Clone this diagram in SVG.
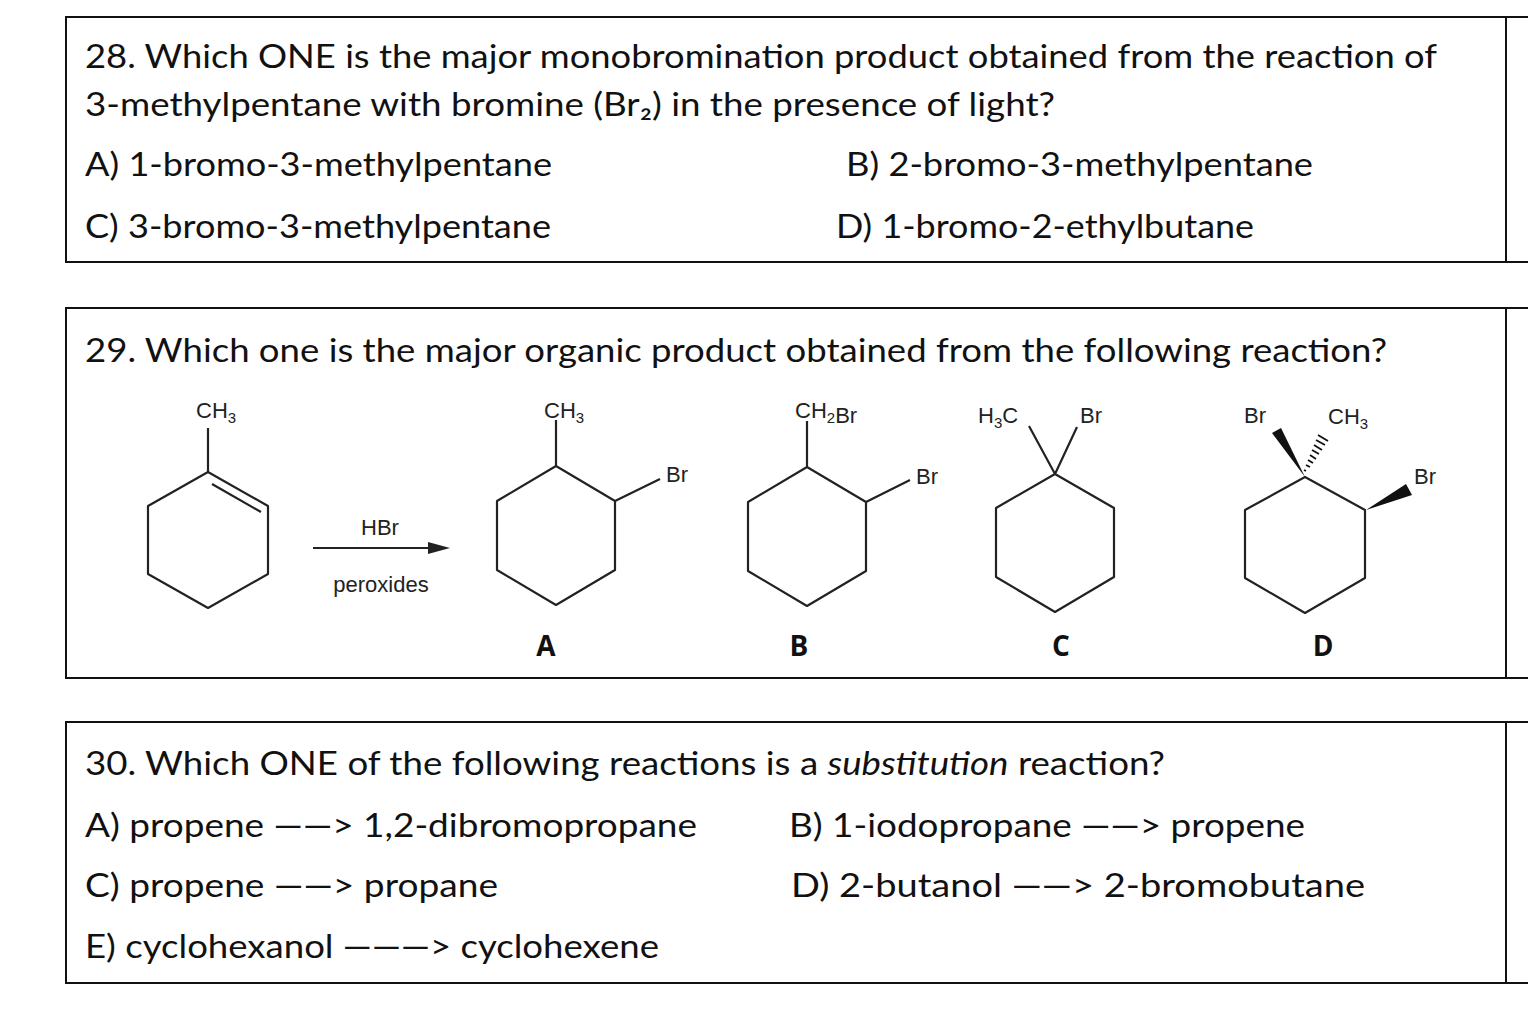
<svg xmlns="http://www.w3.org/2000/svg" width="1528" height="1018" viewBox="0 0 1528 1018">
<style>
.q{font-family:Lato,"Open Sans",sans-serif;font-size:32px;fill:#111}
.c{font-family:"Liberation Sans",Arial,sans-serif;font-size:22px;fill:#222}
.b{font-family:"Open Sans",sans-serif;font-size:28px;font-weight:bold;fill:#111}
.box{fill:none;stroke:#111;stroke-width:2}
.bd{fill:none;stroke:#222;stroke-width:2.2;stroke-linejoin:round}
</style>
<rect width="1528" height="1018" fill="#fff"/>
<g id="q28">
<path class="box" d="M1528 17H66V262H1528M1506 17V262"/>
<text class="q" x="85" y="68" textLength="1352" lengthAdjust="spacingAndGlyphs">28. Which ONE is the major monobromination product obtained from the reaction of</text>
<text class="q" x="85" y="116" textLength="970" lengthAdjust="spacingAndGlyphs">3-methylpentane with bromine (Br₂) in the presence of light?</text>
<text class="q" x="85" y="176" textLength="467" lengthAdjust="spacingAndGlyphs">A) 1-bromo-3-methylpentane</text>
<text class="q" x="846" y="176" textLength="467" lengthAdjust="spacingAndGlyphs">B) 2-bromo-3-methylpentane</text>
<text class="q" x="85" y="238" textLength="466" lengthAdjust="spacingAndGlyphs">C) 3-bromo-3-methylpentane</text>
<text class="q" x="836" y="238" textLength="418" lengthAdjust="spacingAndGlyphs">D) 1-bromo-2-ethylbutane</text>
</g>
<g id="q29">
<path class="box" d="M1528 308H66V678H1528M1506 308V678"/>
<text class="q" x="85" y="362" textLength="1302" lengthAdjust="spacingAndGlyphs">29. Which one is the major organic product obtained from the following reaction?</text>
</g>
<g id="start">
<path class="bd" d="M208 472L268 506V574L208 608L148 574V506ZM208 472V428M212 484L261 512"/>
<text class="c" x="196" y="418">CH<tspan font-size="15" dy="5">3</tspan></text>
</g>
<g id="arrow">
<line x1="313" y1="548" x2="432" y2="548" stroke="#222" stroke-width="2.2"/>
<path d="M450 548L428 542V554Z" fill="#222"/>
<text class="c" x="380" y="535" text-anchor="middle">HBr</text>
<text class="c" x="381" y="592" text-anchor="middle">peroxides</text>
</g>
<g id="A">
<path class="bd" d="M556 466L615 501V570L556 605L497 570V501ZM556 466V420M615 501L660 479"/>
<text class="c" x="544" y="418">CH<tspan font-size="15" dy="5">3</tspan></text>
<text class="c" x="666" y="482">Br</text>
<text class="b" x="546" y="656" text-anchor="middle">A</text>
</g>
<g id="B">
<path class="bd" d="M807 467L866 502V571L807 606L748 571V502ZM807 467V421M866 502L910 480"/>
<text class="c" x="795" y="418">CH<tspan font-size="15" dy="5">2</tspan>Br</text>
<text class="c" x="916" y="484">Br</text>
<text class="b" x="799" y="656" text-anchor="middle">B</text>
</g>
<g id="C">
<path class="bd" d="M1055 474L1114 508V577L1055 612L996 577V508ZM1055 474L1029 426M1055 474L1077 427"/>
<text class="c" x="978" y="423">H<tspan font-size="15" dy="5">3</tspan><tspan dy="-5">C</tspan></text>
<text class="c" x="1080" y="423">Br</text>
<text class="b" x="1061" y="656" text-anchor="middle">C</text>
</g>
<g id="D">
<path class="bd" d="M1305 477L1365 510V578L1305 613L1245 578V510Z"/>
<path d="M1305 477L1272 433L1281 428Z" fill="#111"/>
<path d="M1307 469l2 1M1309 464l4 2M1311 459l5 3M1313 454l6 4M1315 449l7 4M1317 444l8 5M1319 439l9 5M1321 434l10 6" stroke="#111" stroke-width="1.8" transform="translate(-3,1)"/>
<path d="M1366 510L1406 484L1412 495Z" fill="#111"/>
<text class="c" x="1244" y="423">Br</text>
<text class="c" x="1328" y="424">CH<tspan font-size="15" dy="5">3</tspan></text>
<text class="c" x="1414" y="484">Br</text>
<text class="b" x="1323" y="656" text-anchor="middle">D</text>
</g>
<g id="q30">
<path class="box" d="M1528 722H66V983H1528M1506 722V983"/>
<text class="q" x="85" y="775" textLength="1080" lengthAdjust="spacingAndGlyphs">30.  Which ONE of the following reactions is a <tspan font-style="italic">substitution</tspan> reaction?</text>
<text class="q" x="85" y="837" textLength="612" lengthAdjust="spacingAndGlyphs">A)  propene ——&gt; 1,2-dibromopropane</text>
<text class="q" x="789" y="837" textLength="516" lengthAdjust="spacingAndGlyphs">B)  1-iodopropane ——&gt; propene</text>
<text class="q" x="85" y="897" textLength="413" lengthAdjust="spacingAndGlyphs">C)  propene ——&gt; propane</text>
<text class="q" x="791" y="897" textLength="574" lengthAdjust="spacingAndGlyphs">D) 2-butanol  ——&gt;  2-bromobutane</text>
<text class="q" x="85" y="958" textLength="574" lengthAdjust="spacingAndGlyphs">E)  cyclohexanol ———&gt;  cyclohexene</text>
</g>
</svg>
